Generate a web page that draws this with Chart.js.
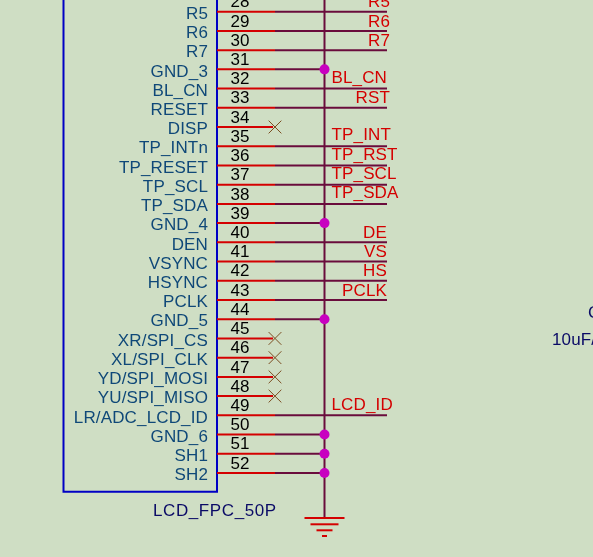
<!DOCTYPE html>
<html>
<head>
<meta charset="utf-8">
<style>
html,body{margin:0;padding:0;background:#cfdec4;overflow:hidden}
canvas{display:block}
</style>
<script src="https://cdn.jsdelivr.net/npm/chart.js@4"></script>
</head>
<body>
<canvas id="c" width="593" height="557"></canvas>
<script>
// connector pins, top one only shows its lower edge
const pinNumbers = [27,28,29,30,31,32,33,34,35,36,37,38,39,40,41,42,43,44,45,46,47,48,49,50,51,52];
const pinNames = ['R4','R5','R6','R7','GND_3','BL_CN','RESET','DISP','TP_INTn','TP_RESET','TP_SCL','TP_SDA','GND_4','DEN','VSYNC','HSYNC','PCLK','GND_5','XR/SPI_CS','XL/SPI_CLK','YD/SPI_MOSI','YU/SPI_MISO','LR/ADC_LCD_ID','GND_6','SH1','SH2'];
const netPins = [28,29,30,32,33,35,36,37,38,40,41,42,43,49];
const netNames = ['R5','R6','R7','BL_CN','RST','TP_INT','TP_RST','TP_SCL','TP_SDA','DE','VS','HS','PCLK','LCD_ID'];
const leftAlignedNets = ['BL_CN','TP_INT','TP_RST','TP_SCL','TP_SDA','LCD_ID'];
const overhangNets = ['R5','R6','R7','RST'];
const groundPins = [31,39,44,50,51,52];
const openPins = [34,45,46,47,48];
const partName = 'LCD_FPC_50P';
const offPageTexts = ['C','10uF/'];

// layout, in page pixels
const ROW = 19.22, ROW0 = 11.7;
const rowAt = px => 28 + (px - ROW0) / ROW;
const X = {boxL:63.5, boxR:217, pinEnd:275, bus:324.5, netEnd:387};
const RED = '#d40000', WIRE = '#6a0c3c', BLUE = '#0000c4', MAGENTA = '#c800c0', BROWN = '#7a4c20';

const wire = (x1, y1, x2, y2, color, w) => ({
  type:'line', data:[{x:x1,y:y1},{x:x2,y:y2}], borderColor:color, borderWidth:w,
  pointRadius:0, fill:false, tension:0
});

const datasets = [];
// part outline
datasets.push({type:'line', data:[{x:X.boxL,y:rowAt(-20)},{x:X.boxL,y:rowAt(491.7)},{x:X.boxR,y:rowAt(491.7)},{x:X.boxR,y:rowAt(-20)}],
  borderColor:BLUE, borderWidth:2, pointRadius:0, fill:false, tension:0});
// ground bus
datasets.push(wire(X.bus, rowAt(-20), X.bus, rowAt(518), WIRE, 2));
netPins.forEach(p => datasets.push(wire(X.pinEnd, p, X.netEnd, p, WIRE, 2)));
groundPins.forEach(p => datasets.push(wire(X.pinEnd, p, X.bus, p, WIRE, 2)));
pinNumbers.forEach(p => datasets.push(wire(X.boxR, p, openPins.includes(p) ? 273 : X.pinEnd, p, RED, 2)));
// ground symbol
[[518,20],[524.3,14],[530.3,8],[536,2.5]].forEach(([y,h]) => datasets.push(wire(X.bus-h, rowAt(y), X.bus+h, rowAt(y), RED, 2)));
// junctions and no-connect marks
datasets.push({type:'scatter', data:groundPins.map(p => ({x:X.bus,y:p})), pointRadius:5, pointBackgroundColor:MAGENTA, pointBorderColor:MAGENTA, pointBorderWidth:0});
datasets.push({type:'scatter', data:openPins.map(p => ({x:X.pinEnd,y:p})), pointStyle:'crossRot', pointRadius:9, pointBorderColor:BROWN, pointBorderWidth:1});
// chart.js paints the first dataset last
datasets.reverse();

const schematicText = {
  id:'schematicText',
  afterDatasetsDraw(chart){
    const ctx = chart.ctx, sy = chart.scales.y;
    const put = (t, x, y, color, align) => {
      ctx.fillStyle = color; ctx.textAlign = align;
      ctx.fillText(t, x, y);
    };
    ctx.save();
    ctx.font = '17px "Liberation Sans"';
    ctx.letterSpacing = '0.15px';
    ctx.textBaseline = 'middle';
    pinNumbers.forEach((p,i) => {
      const y = sy.getPixelForValue(p);
      put(pinNames[i], 208, y + 2.5, '#0f4878', 'right');
      if(p > 27) put(String(p), 240, y - 9, '#000000', 'center');
    });
    netNames.forEach((n,i) => {
      const y = sy.getPixelForValue(netPins[i]);
      if(leftAlignedNets.includes(n)) put(n, 331.5, y - 10.5, RED, 'left');
      else put(n, overhangNets.includes(n) ? 390 : 387, y - 9, RED, 'right');
    });
    ctx.letterSpacing = '0.6px';
    put(partName, 153, 511, '#0a0a66', 'left');
    ctx.letterSpacing = '0.15px';
    put(offPageTexts[0], 588, 313, '#0a0a66', 'left');
    put(offPageTexts[1], 552, 340, '#0a0a66', 'left');
    ctx.restore();
  }
};

new Chart(document.getElementById('c').getContext('2d'), {
  data:{datasets},
  options:{
    responsive:false, animation:false, devicePixelRatio:1,
    layout:{padding:0, autoPadding:false},
    plugins:{legend:{display:false}, tooltip:{enabled:false}},
    scales:{
      x:{type:'linear', display:false, min:0, max:593},
      y:{type:'linear', display:false, reverse:true, min:rowAt(0), max:rowAt(557)}
    }
  },
  plugins:[schematicText]
});
</script>
</body>
</html>
